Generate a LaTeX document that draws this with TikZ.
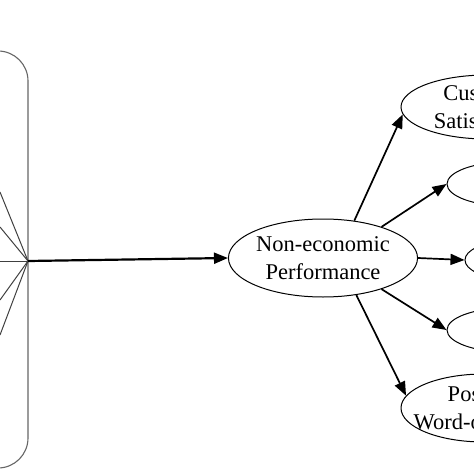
\documentclass[tikz,border=0pt]{standalone}
\usepackage{fontspec}
\setmainfont{Liberation Serif}
\usetikzlibrary{arrows.meta, shapes.geometric}

\begin{document}
\begin{tikzpicture}[x=1pt, y=-1pt,
  font=\fontsize{22.5}{28.5}\selectfont,
  construct/.style={draw, ellipse, line width=1pt, inner sep=0pt, align=center},
  link/.style={-{Triangle[length=14pt,width=11pt]}, line width=1.7pt},
  spoke/.style={draw=black!75, line width=1pt}]

  \clip (0,0) rectangle (474,474);

  % Left block (cut off by the frame)
  \draw[black!60, line width=1.1pt, rounded corners=30pt] (-60,51) rectangle (28,468);
  \coordinate (hub) at (28,261);
  \foreach \y [count=\i] in {192,227,261,300,335}
    \coordinate (in\i) at (0,\y);
  \foreach \i in {1,...,5}
    \draw[spoke] (in\i) -- (hub);

  % Non-economic performance
  \node[construct, minimum width=188pt, minimum height=78pt] (perf) at (323,258)
    {Non-economic\\Performance};

  % Outcomes on the right
  \node[construct, minimum width=172pt, minimum height=64pt, inner ysep=-4pt] (satis) at (487,107)
    {Customer\\Satisfaction};
  \node[construct, minimum width=120pt, minimum height=44pt] (out2) at (507,184) {};
  \node[construct, minimum width=80pt, minimum height=36pt] (out3) at (505,260) {};
  \node[construct, minimum width=120pt, minimum height=44pt] (out4) at (507,330) {};
  \node[construct, minimum width=166pt, minimum height=68pt, inner xsep=-12pt, inner ysep=-4pt] (wom) at (484,408)
    {Positive\\Word-of-mouth};

  % Arrows
  \draw[link, line width=2.2pt] (hub) -- (perf.west);
  \draw[link] (perf.50) -- (satis.185);
  \draw[link] (perf.28) -- (out2.west);
  \draw[link] (perf.east) -- (out3.west);
  \draw[link] (perf.-28) -- (out4.west);
  \draw[link] (perf.-48) -- (wom.171);
\end{tikzpicture}
\end{document}
